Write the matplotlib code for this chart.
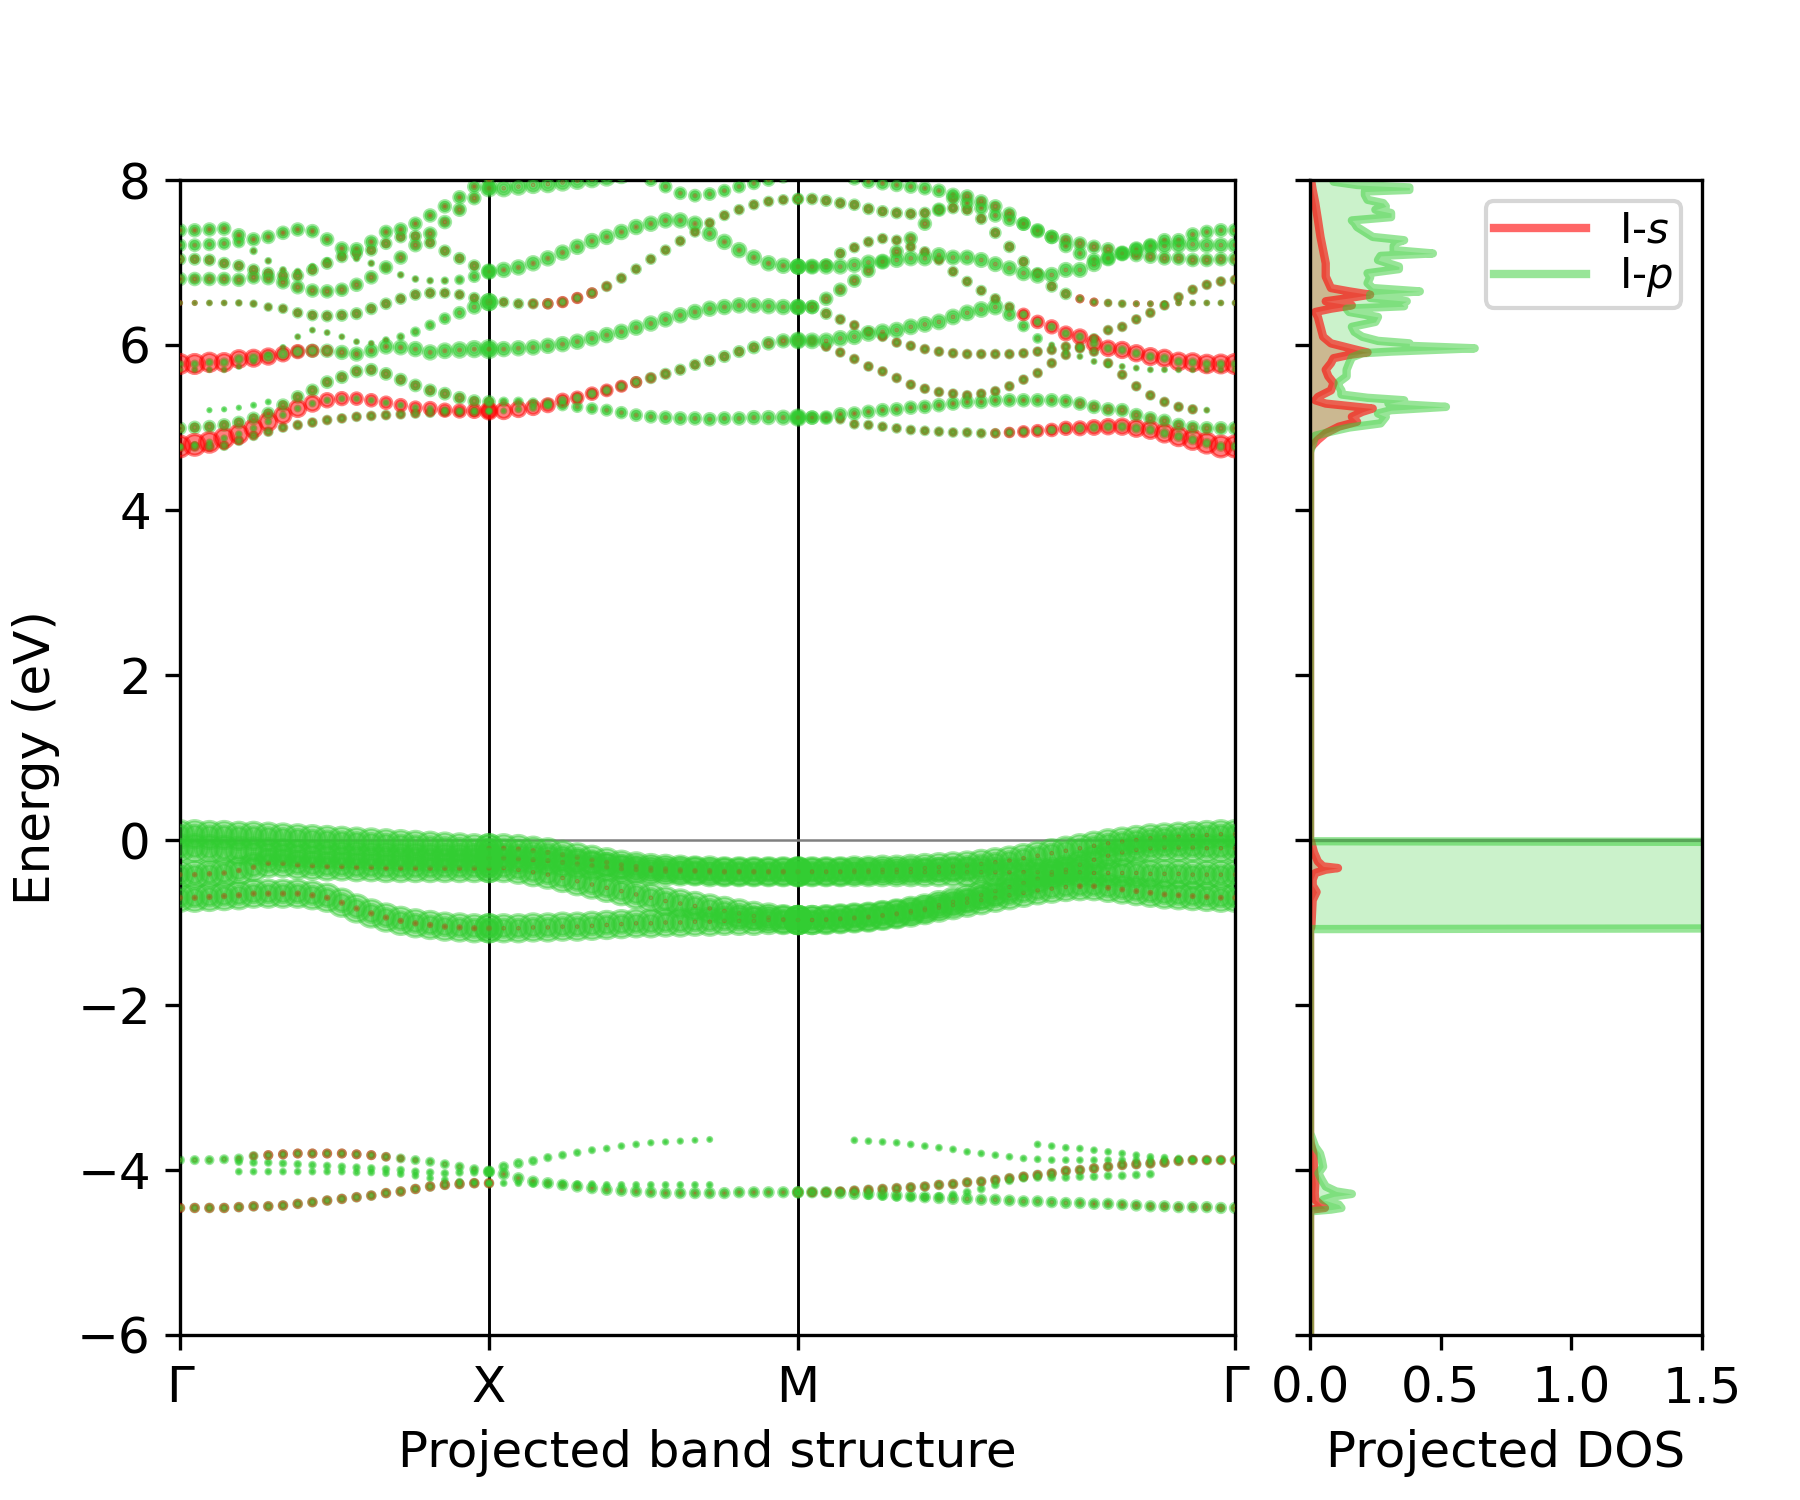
import numpy as np
import matplotlib
matplotlib.use('Agg')
import matplotlib.pyplot as plt

plt.rcParams['font.size'] = 12

# ---------------- k-path ----------------
kpath_labels = ['Γ', 'X', 'M', 'Γ']
kpath_nodes = [0.0, 0.5, 1.0, 1.0 + np.sqrt(0.5)]
n_kpts = [22, 22, 32]

# ---------------- Γ-X segment (energies in eV) ----------------
gx_energy = [
    [4.77,4.79,4.82,4.87,4.92,4.99,5.07,5.15,5.23,5.29,5.33,5.35,5.35,5.33,5.30,5.27,5.24,5.23,5.21,5.20,5.20,5.20],
    [4.76,4.77,4.77,4.78,4.84,4.90,4.95,5.00,5.03,5.06,5.09,5.11,5.13,5.14,5.15,5.16,5.17,5.18,5.19,5.19,5.19,5.20],
    [4.99,5.00,5.01,5.03,5.06,5.11,5.17,5.27,5.37,5.45,5.55,5.61,5.68,5.70,5.65,5.58,5.51,5.45,5.41,5.36,5.32,5.31],
    [5.77,5.77,5.79,5.79,5.83,5.84,5.86,5.89,5.92,5.93,5.93,5.91,5.89,5.93,5.98,5.97,5.95,5.91,5.93,5.94,5.95,5.95],
    [5.70,5.70,5.70,5.70,5.74,5.80,5.88,5.97,6.10,6.18,6.15,6.10,6.04,6.02,6.06,6.10,6.16,6.24,6.32,6.39,6.46,6.52],
    [6.51,6.51,6.51,6.51,6.51,6.50,6.46,6.44,6.39,6.36,6.35,6.36,6.38,6.44,6.50,6.56,6.61,6.63,6.63,6.61,6.57,6.52],
    [6.80,6.80,6.80,6.80,6.79,6.82,6.81,6.76,6.70,6.66,6.65,6.67,6.73,6.82,6.94,7.06,7.21,7.35,7.49,7.64,7.78,7.90],
    [7.04,7.04,7.03,6.99,6.96,6.91,6.87,6.84,6.84,6.91,6.99,7.07,7.11,7.15,7.23,7.31,7.32,7.24,7.14,7.05,6.96,6.89],
    [7.21,7.21,7.22,7.23,7.25,7.14,7.02,6.91,6.89,6.95,7.02,7.09,7.05,6.99,6.94,6.85,6.80,6.78,6.78,6.79,6.83,6.89],
    [7.39,7.39,7.40,7.41,7.33,7.28,7.31,7.36,7.40,7.38,7.28,7.17,7.16,7.25,7.37,7.40,7.47,7.57,7.68,7.79,7.92,8.00],
    [5.20,5.20,5.21,5.22,5.24,5.27,5.31,5.34,5.36,5.40,5.45,5.50,5.55,5.58,5.62,5.66,5.70,5.74,5.78,5.82,5.86,5.90],
    [0.07,0.07,0.06,0.06,0.05,0.05,0.04,0.03,0.02,0.01,0.00,-0.01,-0.02,-0.03,-0.04,-0.05,-0.06,-0.07,-0.08,-0.09,-0.10,-0.10],
    [-0.10,-0.10,-0.11,-0.12,-0.13,-0.14,-0.15,-0.16,-0.17,-0.18,-0.18,-0.19,-0.19,-0.20,-0.20,-0.21,-0.21,-0.22,-0.22,-0.22,-0.22,-0.22],
    [-0.42,-0.42,-0.41,-0.40,-0.37,-0.33,-0.28,-0.28,-0.30,-0.31,-0.32,-0.32,-0.33,-0.33,-0.34,-0.34,-0.34,-0.34,-0.34,-0.34,-0.34,-0.34],
    [-0.70,-0.70,-0.69,-0.68,-0.67,-0.65,-0.65,-0.65,-0.65,-0.67,-0.70,-0.76,-0.83,-0.89,-0.94,-0.98,-1.01,-1.03,-1.05,-1.06,-1.07,-1.07],
    [-4.46,-4.46,-4.46,-4.46,-4.45,-4.44,-4.44,-4.43,-4.41,-4.39,-4.37,-4.35,-4.33,-4.31,-4.28,-4.26,-4.23,-4.20,-4.18,-4.17,-4.16,-4.16],
    [-3.88,-3.88,-3.88,-3.87,-3.86,-3.83,-3.82,-3.81,-3.80,-3.80,-3.80,-3.80,-3.81,-3.82,-3.84,-3.86,-3.88,-3.90,-3.93,-3.96,-3.99,-4.02],
    [-3.88,-3.88,-3.88,-3.89,-3.90,-3.91,-3.91,-3.92,-3.93,-3.94,-3.95,-3.96,-3.97,-3.98,-3.99,-4.00,-4.02,-4.03,-4.04,-4.03,-4.03,-4.02],
    [-4.00,-4.00,-4.01,-4.01,-4.02,-4.02,-4.02,-4.02,-4.02,-4.02,-4.02,-4.02,-4.03,-4.03,-4.04,-4.05,-4.07,-4.10,-4.12,-4.14,-4.15,-4.16],
]
gx_s = [
    [0.55,0.55,0.52,0.50,0.48,0.45,0.45,0.42,0.42,0.40,0.35,0.32,0.30,0.30,0.30,0.30,0.30,0.32,0.32,0.32,0.34,0.36],
    0.16, 0.16,
    [0.50,0.50,0.48,0.46,0.44,0.42,0.40,0.36,0.32,0.28,0.22,0.15,0.12,0.10,0.08,0.06,0.05,0.05,0.05,0.05,0.05,0.05],
    0.04,
    [0.07,0.07,0.07,0.07,0.08,0.09,0.11,0.13,0.14,0.15,0.15,0.15,0.15,0.15,0.15,0.15,0.15,0.15,0.14,0.14,0.14,0.12],
    0.14, 0.15, 0.05, 0.10,
    0.0,
    0.0, 0.0, 0.06, 0.08,
    0.18,
    [0.03,0.03,0.03,0.03,0.05,0.14,0.18,0.18,0.18,0.18,0.18,0.18,0.18,0.18,0.16,0.12,0.05,0.03,0.03,0.03,0.03,0.03],
    0.0, 0.0,
]
gx_p = [
    0.12, 0.20, 0.28,
    [0.15,0.15,0.15,0.18,0.20,0.22,0.25,0.25,0.28,0.30,0.30,0.32,0.32,0.32,0.34,0.34,0.35,0.35,0.36,0.38,0.40,0.45],
    [0.10,0.10,0.10,0.10,0.10,0.10,0.10,0.10,0.10,0.10,0.10,0.10,0.10,0.10,0.12,0.15,0.20,0.22,0.25,0.28,0.32,0.40],
    [0.08,0.08,0.10,0.10,0.12,0.14,0.17,0.20,0.22,0.24,0.25,0.26,0.26,0.26,0.25,0.24,0.24,0.24,0.22,0.22,0.24,0.40],
    0.30, 0.26,
    [0.28,0.28,0.28,0.28,0.26,0.14,0.12,0.12,0.12,0.12,0.12,0.12,0.12,0.12,0.12,0.12,0.12,0.12,0.14,0.20,0.26,0.32],
    0.30,
    [0,0,0.08,0.08,0.08,0.10,0.10,0,0,0,0,0,0,0,0,0,0,0,0,0,0,0],
    0.72, 0.72, 0.72, 0.72,
    0.20, 0.18,
    [0,0,0,0,0.14,0.14,0.14,0.14,0.14,0.14,0.14,0.14,0.14,0.14,0.14,0.14,0.14,0.14,0.14,0.14,0.14,0.14],
    [0,0,0,0,0.12,0.12,0.12,0.12,0.12,0.12,0.12,0.12,0.12,0.12,0.12,0.12,0.12,0.12,0.12,0.12,0.12,0.12],
]

# ---------------- X-M segment ----------------
xm_energy = [
    [5.20,5.20,5.22,5.24,5.27,5.33,5.36,5.41,5.45,5.50,5.55,5.60,5.65,5.70,5.76,5.81,5.86,5.92,5.97,6.02,6.05,6.06],
    [5.31,5.31,5.31,5.30,5.29,5.27,5.25,5.23,5.21,5.18,5.15,5.13,5.12,5.11,5.11,5.10,5.11,5.11,5.12,5.12,5.12,5.12],
    [5.95,5.95,5.96,5.97,5.99,6.01,6.04,6.08,6.12,6.16,6.21,6.26,6.31,6.36,6.40,6.44,6.46,6.48,6.48,6.47,6.46,6.46],
    [6.52,6.52,6.50,6.50,6.50,6.52,6.57,6.63,6.71,6.81,6.92,7.04,7.15,7.26,7.37,7.48,7.57,7.64,7.70,7.74,7.76,7.77],
    [6.89,6.91,6.94,6.99,7.05,7.12,7.19,7.26,7.31,7.37,7.43,7.47,7.51,7.51,7.47,7.35,7.25,7.15,7.06,6.99,6.96,6.95],
    [7.90,7.90,7.92,7.94,7.95,7.97,7.99,8.01,8.03,8.06,8.09,8.12,8.20,8.25,8.30,8.30,8.30,8.30,8.30,8.30,8.30,8.30],
    [8.30,8.30,8.30,8.30,8.30,8.30,8.30,8.25,8.20,8.15,8.08,8.00,7.92,7.84,7.81,7.83,7.87,7.92,7.96,8.00,8.04,8.08],
    [-0.10,-0.10,-0.11,-0.13,-0.15,-0.18,-0.21,-0.24,-0.27,-0.30,-0.32,-0.34,-0.35,-0.36,-0.37,-0.37,-0.38,-0.38,-0.38,-0.38,-0.38,-0.38],
    [-0.22,-0.22,-0.23,-0.24,-0.25,-0.27,-0.29,-0.31,-0.33,-0.35,-0.36,-0.37,-0.38,-0.38,-0.38,-0.39,-0.39,-0.39,-0.39,-0.39,-0.39,-0.39],
    [-0.34,-0.34,-0.36,-0.39,-0.42,-0.46,-0.50,-0.54,-0.58,-0.62,-0.66,-0.70,-0.74,-0.77,-0.80,-0.83,-0.86,-0.89,-0.92,-0.94,-0.96,-0.97],
    [-1.07,-1.07,-1.07,-1.06,-1.06,-1.05,-1.05,-1.04,-1.03,-1.02,-1.01,-1.01,-1.00,-1.00,-0.99,-0.99,-0.98,-0.98,-0.98,-0.97,-0.97,-0.97],
    [-4.02,-3.96,-3.92,-3.89,-3.85,-3.82,-3.79,-3.76,-3.74,-3.71,-3.69,-3.67,-3.66,-3.65,-3.64,-3.63,-3.62,-3.61,-3.61,-3.60,-3.60,-3.60],
    [-4.02,-4.05,-4.10,-4.14,-4.16,-4.18,-4.20,-4.22,-4.24,-4.25,-4.26,-4.27,-4.28,-4.28,-4.28,-4.28,-4.28,-4.27,-4.27,-4.27,-4.27,-4.27],
    [-4.16,-4.16,-4.16,-4.17,-4.17,-4.17,-4.17,-4.17,-4.18,-4.18,-4.18,-4.18,-4.18,-4.18,-4.18,-4.18,-4.19,-4.20,-4.22,-4.24,-4.26,-4.27],
]
xm_s = [
    [0.42,0.40,0.38,0.36,0.34,0.32,0.30,0.30,0.28,0.26,0.24,0.20,0.18,0.16,0.16,0.16,0.16,0.16,0.16,0.16,0.15,0.14],
    0.05, 0.05,
    [0.14,0.14,0.14,0.18,0.22,0.24,0.24,0.22,0.18,0.16,0.15,0.15,0.15,0.15,0.15,0.15,0.15,0.15,0.15,0.15,0.15,0.15],
    0.06, 0.03, 0.05,
    0.05, 0.05, 0.03, 0.03,
    0.0, 0.06, 0.0,
]
xm_p = [
    [0.10,0.10,0.12,0.15,0.18,0.20,0.22,0.22,0.22,0.22,0.24,0.24,0.24,0.24,0.24,0.25,0.26,0.26,0.28,0.30,0.32,0.36],
    [0.20,0.20,0.20,0.20,0.22,0.24,0.24,0.25,0.26,0.27,0.28,0.28,0.30,0.30,0.30,0.30,0.30,0.30,0.32,0.32,0.34,0.40],
    0.35, 0.22, 0.35, 0.40, 0.28,
    0.72, 0.72, 0.72, 0.72,
    [0.22,0.20,0.20,0.18,0.16,0.15,0.14,0.13,0.12,0.12,0.12,0.11,0.11,0.11,0.10,0.10,0,0,0,0,0,0],
    0.24,
    [0.12,0.12,0.12,0.12,0.12,0.12,0.12,0.12,0.12,0.12,0.12,0.12,0.12,0.12,0.12,0.12,0,0,0,0,0,0],
]

# ---------------- M-Γ segment ----------------
mg_energy = [
    [5.12,5.12,5.12,5.16,5.17,5.19,5.21,5.22,5.24,5.25,5.27,5.29,5.31,5.31,5.33,5.33,5.33,5.33,5.33,5.32,5.29,5.25,5.22,5.21,5.15,5.11,5.08,5.03,5.00,4.99,4.99,4.99],
    [5.12,5.12,5.12,5.10,5.04,5.03,5.01,4.99,4.97,4.96,4.95,4.94,4.94,4.93,4.93,4.94,4.95,4.96,4.97,4.99,4.99,5.00,5.01,5.01,4.99,4.97,4.93,4.89,4.85,4.81,4.77,4.77],
    [6.05,6.05,5.98,5.91,5.83,5.74,5.68,5.60,5.52,5.47,5.43,5.41,5.39,5.41,5.44,5.50,5.58,5.66,5.78,5.88,5.98,6.08,6.18,6.22,6.31,6.39,6.48,6.58,6.67,6.73,6.77,6.79],
    [6.46,6.46,6.38,6.31,6.24,6.16,6.10,6.03,5.99,5.95,5.92,5.90,5.89,5.89,5.89,5.89,5.90,5.92,5.94,5.98,5.96,5.92,5.78,5.64,5.50,5.39,5.31,5.25,5.22,5.21,5.19,5.17],
    [6.95,6.95,6.97,7.11,7.18,7.25,7.29,7.27,7.19,7.13,7.03,6.89,6.77,6.66,6.56,6.46,6.37,6.28,6.22,6.14,6.10,6.02,5.96,5.94,5.90,5.86,5.84,5.80,5.79,5.77,5.77,5.77],
    [6.95,6.95,6.95,6.95,6.97,7.00,7.01,7.03,7.05,7.05,7.09,7.06,7.06,7.03,6.98,6.93,6.87,6.84,6.85,6.91,6.91,6.98,7.05,7.11,7.15,7.19,7.20,7.21,7.22,7.21,7.21,7.21],
    [6.05,6.05,6.05,6.08,6.10,6.14,6.16,6.18,6.22,6.25,6.28,6.34,6.39,6.43,6.46,6.37,6.23,6.08,6.00,5.92,5.86,5.80,5.76,5.74,5.72,5.70,5.70,5.70,5.70,5.70,5.70,5.70],
    [6.46,6.46,6.56,6.67,6.78,6.90,7.01,7.13,7.29,7.47,7.64,7.78,7.80,7.74,7.68,7.59,7.47,7.38,7.31,7.27,7.23,7.19,7.16,7.11,7.09,7.07,7.05,7.05,7.03,7.03,7.04,7.04],
    [7.77,7.77,7.75,7.72,7.70,7.65,7.62,7.60,7.59,7.60,7.64,7.66,7.64,7.53,7.36,7.19,7.01,6.87,6.71,6.62,6.56,6.52,6.51,6.50,6.50,6.50,6.50,6.51,6.51,6.51,6.51,6.51],
    [8.28,8.24,8.16,8.08,8.02,7.98,7.96,7.94,7.92,7.90,7.87,7.82,7.72,7.66,7.57,7.52,7.47,7.39,7.31,7.20,7.11,7.03,7.05,7.11,7.17,7.21,7.27,7.27,7.34,7.37,7.39,7.39],
    [-0.38,-0.38,-0.38,-0.38,-0.37,-0.37,-0.36,-0.36,-0.35,-0.34,-0.33,-0.32,-0.31,-0.29,-0.27,-0.25,-0.22,-0.19,-0.16,-0.13,-0.10,-0.07,-0.04,-0.02,0.00,0.02,0.03,0.04,0.05,0.06,0.07,0.07],
    [-0.39,-0.39,-0.39,-0.39,-0.39,-0.39,-0.39,-0.39,-0.39,-0.39,-0.39,-0.39,-0.39,-0.39,-0.39,-0.39,-0.39,-0.39,-0.39,-0.39,-0.39,-0.40,-0.40,-0.40,-0.40,-0.41,-0.41,-0.41,-0.42,-0.42,-0.42,-0.42],
    [-0.97,-0.97,-0.96,-0.95,-0.94,-0.93,-0.91,-0.89,-0.86,-0.83,-0.79,-0.75,-0.71,-0.67,-0.62,-0.57,-0.52,-0.47,-0.42,-0.36,-0.30,-0.24,-0.19,-0.15,-0.12,-0.10,-0.09,-0.09,-0.09,-0.10,-0.10,-0.10],
    [-0.97,-0.97,-0.97,-0.96,-0.95,-0.94,-0.92,-0.90,-0.88,-0.85,-0.82,-0.79,-0.76,-0.73,-0.70,-0.67,-0.64,-0.61,-0.59,-0.57,-0.56,-0.56,-0.58,-0.60,-0.62,-0.64,-0.66,-0.67,-0.68,-0.69,-0.70,-0.70],
    [-4.27,-4.27,-4.27,-4.26,-4.25,-4.24,-4.23,-4.22,-4.21,-4.20,-4.18,-4.17,-4.15,-4.14,-4.12,-4.10,-4.08,-4.06,-4.04,-4.01,-4.00,-3.98,-3.96,-3.94,-3.93,-3.92,-3.91,-3.89,-3.88,-3.88,-3.88,-3.88],
    [-4.27,-4.27,-4.27,-4.28,-4.29,-4.29,-4.30,-4.31,-4.32,-4.33,-4.34,-4.35,-4.35,-4.36,-4.36,-4.37,-4.38,-4.38,-4.39,-4.40,-4.40,-4.41,-4.41,-4.42,-4.43,-4.44,-4.44,-4.45,-4.45,-4.45,-4.46,-4.46],
    [-3.60,-3.60,-3.61,-3.62,-3.64,-3.65,-3.66,-3.67,-3.69,-3.71,-3.73,-3.75,-3.78,-3.80,-3.82,-3.84,-3.86,-3.87,-3.88,-3.88,-3.88,-3.88,-3.88,-3.88,-3.88,-3.88,-3.88,-3.88,-3.88,-3.88,-3.88,-3.88],
    [-3.60,-3.60,-3.60,-3.60,-3.60,-3.60,-3.60,-3.60,-3.60,-3.60,-3.60,-3.60,-3.60,-3.60,-3.60,-3.60,-3.60,-3.69,-3.71,-3.73,-3.74,-3.76,-3.78,-3.80,-3.82,-3.84,-3.85,-3.86,-3.87,-3.88,-3.88,-3.88],
    [-4.27,-4.27,-4.27,-4.28,-4.29,-4.31,-4.32,-4.33,-4.33,-4.33,-4.32,-4.30,-4.27,-4.23,-4.18,-4.13,-4.10,-4.09,-4.09,-4.09,-4.08,-4.08,-4.07,-4.07,-4.06,-4.05,-4.04,-4.03,-4.02,-4.01,-4.00,-4.00],
]
mg_s = [
    [0.08]*20 + [0.15]*12,
    [0.14]*14 + [0.18,0.22,0.26,0.28,0.30,0.32,0.34,0.36,0.38,0.40,0.42,0.44,0.46,0.48,0.50,0.52,0.55,0.55],
    0.16,
    [0.16]*29 + [0.05,0,0],
    [0.15]*16 + [0.28,0.30,0.32,0.34,0.36,0.38,0.38,0.40,0.40,0.42,0.42,0.44,0.45,0.46,0.47,0.50],
    0.04, 0.04, 0.15,
    [0.16]*22 + [0.12,0.11,0.10,0.09,0.08,0.08,0.07,0.07,0.07,0.07],
    0.06,
    0.03, 0.03, 0.03, [0.03]*20 + [0.07]*12,
    0.17,
    [0.04]*20 + [0.06,0.07,0.08,0.09,0.10,0.10,0.11,0.12,0.12,0.12,0.12,0.12],
    0.0, 0.0, 0.0,
]
mg_p = [
    0.30,
    [0.35,0.30,0.25] + [0.20]*29,
    0.20,
    [0.35,0.30,0.25,0.22] + [0.20]*25 + [0.10,0,0],
    [0.35,0.30,0.28,0.25] + [0.22]*12 + [0.18]*16,
    0.34,
    [0.36]*15 + [0.30,0.25,0.20] + [0.10]*14,
    0.30,
    [0.25]*20 + [0.15]*4 + [0.10]*8,
    0.30,
    0.72, 0.72, 0.72, 0.72,
    0.20, 0.24,
    [0,0,0,0] + [0.12]*28,
    [0]*17 + [0.12]*15,
    [0]*5 + [0.15]*21 + [0]*6,
]

# ---------------- projected DOS ----------------
dos_p_energy = [-6.0,-4.52,-4.50,-4.48,-4.46,-4.42,-4.36,-4.32,-4.29,-4.26,-4.20,-4.12,-4.04,-3.96,-3.88,-3.80,-3.72,-3.60,-3.55,
                -1.080,-1.065,-0.030,-0.015,
                4.70,4.75,4.80,4.90,4.95,5.00,5.05,5.13,5.17,5.21,5.25,5.29,5.33,5.36,5.40,5.45,5.50,5.55,5.62,5.70,5.78,5.85,
                5.90,5.92,5.96,5.99,6.02,6.05,6.10,6.16,6.22,6.28,6.34,6.40,6.44,6.47,6.50,6.53,6.57,6.61,6.65,6.69,6.75,
                6.82,6.87,6.92,6.95,6.99,7.03,7.08,7.11,7.15,7.20,7.24,7.27,7.31,7.37,7.43,7.48,7.51,7.55,7.60,7.64,7.68,
                7.72,7.76,7.82,7.86,7.88,7.91,7.94,7.98,8.05]
dos_p = [0,0,0.005,0.08,0.12,0.11,0.05,0.09,0.16,0.10,0.06,0.045,0.032,0.05,0.045,0.038,0.02,0.006,0,
         0,3.0,3.0,0,
         0,0.005,0.01,0.02,0.08,0.15,0.27,0.29,0.26,0.31,0.52,0.30,0.36,0.22,0.12,0.12,0.11,0.11,0.14,0.14,0.15,0.16,
         0.20,0.31,0.63,0.38,0.38,0.26,0.20,0.17,0.16,0.25,0.26,0.15,0.14,0.36,0.35,0.37,0.23,0.23,0.42,0.24,0.22,
         0.23,0.22,0.34,0.34,0.30,0.26,0.27,0.47,0.32,0.32,0.33,0.36,0.24,0.21,0.18,0.17,0.16,0.31,0.31,0.25,0.29,
         0.28,0.22,0.21,0.21,0.38,0.38,0.18,0.09,0.09]
dos_s_energy = [-6.0,-4.50,-4.48,-4.46,-4.42,-4.36,-4.28,-4.16,-4.00,-3.80,-3.68,-3.60,
                -1.10,-1.05,-0.73,-0.63,-0.55,-0.48,-0.40,-0.36,-0.34,-0.32,-0.26,-0.15,-0.03,0.0,
                4.74,4.77,4.85,4.93,5.01,5.07,5.13,5.19,5.23,5.26,5.29,5.33,5.37,5.45,5.54,5.62,5.70,5.78,5.84,5.88,
                5.91,5.94,6.02,6.10,6.22,6.34,6.40,6.44,6.48,6.53,6.57,6.61,6.65,6.69,6.83,6.99,7.15,7.31,7.52,7.72,
                7.88,7.98,8.05]
dos_s = [0,0,0.005,0.057,0.04,0.02,0.018,0.02,0.015,0.013,0.003,0,
         0,0.005,0.01,0.025,0.01,0.01,0.02,0.06,0.107,0.05,0.03,0.015,0.005,0,
         0,0.006,0.03,0.06,0.11,0.18,0.16,0.20,0.24,0.15,0.06,0.02,0.03,0.08,0.09,0.07,0.06,0.08,0.09,0.15,
         0.22,0.18,0.08,0.05,0.04,0.03,0.02,0.08,0.16,0.06,0.15,0.23,0.15,0.08,0.06,0.06,0.05,0.04,0.03,0.02,
         0.01,0.005,0.005]

# ---------------- assemble points ----------------
segments = [(gx_energy, gx_s, gx_p), (xm_energy, xm_s, xm_p), (mg_energy, mg_s, mg_p)]
xs, es, ss, ps = [], [], [], []
for i, (E_list, s_list, p_list) in enumerate(segments):
    kx = np.linspace(kpath_nodes[i], kpath_nodes[i + 1], n_kpts[i])
    for E, sw, pw in zip(E_list, s_list, p_list):
        E = np.asarray(E, float)
        xs.append(kx)
        es.append(E)
        ss.append(np.broadcast_to(np.asarray(sw, float), E.shape))
        ps.append(np.broadcast_to(np.asarray(pw, float), E.shape))
xs = np.concatenate(xs); es = np.concatenate(es)
ss = np.concatenate(ss); ps = np.concatenate(ps)

MS = 9.0
def area(w):
    return (MS * w) ** 2

fig = plt.figure(figsize=(6, 5), dpi=300)
ax = fig.add_axes([0.1, 0.11, 0.5861, 0.77])
ax2 = fig.add_axes([0.7278, 0.11, 0.2178, 0.77])

for xv in kpath_nodes[1:-1]:
    ax.axvline(xv, color='black', lw=0.7, zorder=1)
ax.axhline(0, color='gray', lw=0.6, zorder=1)

mp = ps > 0
ms_ = ss > 0
ax.scatter(xs[mp], es[mp], s=area(ps[mp]), color='limegreen', alpha=0.45, linewidths=0.8, zorder=2)
ax.scatter(xs[ms_], es[ms_], s=area(ss[ms_]), color='red', alpha=0.5, linewidths=0.8, zorder=3)
ax.scatter(xs[mp], es[mp], s=area(0.65 * ps[mp]), color='limegreen', alpha=0.45, linewidths=0.8, zorder=4)

ax.set_xlim(kpath_nodes[0], kpath_nodes[-1])
ax.set_ylim(-6, 8)
ax.set_xticks(kpath_nodes)
ax.set_xticklabels(kpath_labels)
ax.set_yticks([-6, -4, -2, 0, 2, 4, 6, 8])
ax.set_ylabel('Energy (eV)')
ax.set_xlabel('Projected band structure')

# DOS panel
ax2.axhline(0, color='gray', lw=0.8, zorder=1)
ax2.fill_betweenx(dos_s_energy, 0, dos_s, color='red', alpha=0.3, lw=0)
ax2.fill_betweenx(dos_p_energy, 0, dos_p, color='limegreen', alpha=0.25, lw=0)
ax2.plot(dos_s, dos_s_energy, color='red', alpha=0.6, lw=2, label='I-$s$')
ax2.plot(dos_p, dos_p_energy, color='limegreen', alpha=0.5, lw=2, label='I-$p$')
ax2.set_xlim(0, 1.5)
ax2.set_ylim(-6, 8)
ax2.set_xticks([0.0, 0.5, 1.0, 1.5])
ax2.set_yticks([-6, -4, -2, 0, 2, 4, 6, 8])
ax2.set_yticklabels([])
ax2.set_xlabel('Projected DOS')
ax2.legend(loc='upper right', fontsize=10, handlelength=2.2, labelspacing=0.1,
           borderpad=0.2, handletextpad=0.8)

fig.savefig('out.png', dpi=300)
